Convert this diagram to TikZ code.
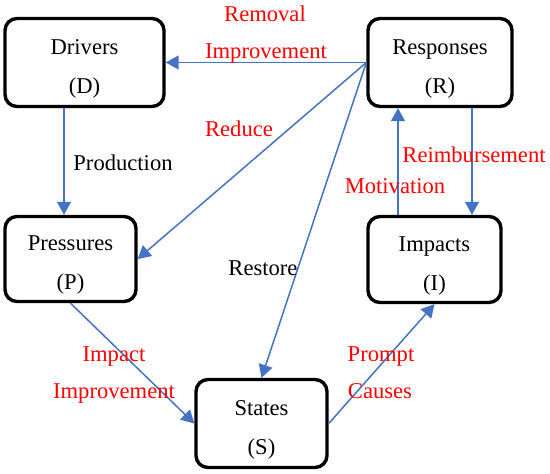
\documentclass[tikz,border=0pt]{standalone}
\usepackage{fontspec}
\setmainfont{Liberation Serif}
\usetikzlibrary{arrows.meta}
\definecolor{arrblue}{RGB}{68,114,196}
\newcommand{\topstrut}{\rule{0pt}{13.8pt}}
\tikzset{
  box/.style={draw=black, line width=1.7pt, rounded corners=6pt, fill=white,
    align=center, inner sep=0pt, font=\fontsize{11.3}{19.5}\selectfont},
  arr/.style={draw=arrblue, line width=0.75pt, -{Triangle[length=6.5pt,width=7pt]}},
  lbl/.style={font=\fontsize{11.3}{13}\selectfont, inner sep=0pt, text height=1.5ex, text depth=0.25ex},
  redlbl/.style={lbl, text=red}
}
\begin{document}
\begin{tikzpicture}[x=0.5pt, y=-0.5pt]
\useasboundingbox (0,0) rectangle (550,474);
% boxes
\node[box, minimum width=79.5pt, minimum height=44pt] (D) at (84.5,62.5) {\topstrut Drivers\\(D)};
\node[box, minimum width=72pt, minimum height=44pt] (R) at (440,62.5) {\topstrut Responses\\(R)};
\node[box, minimum width=65.5pt, minimum height=42.5pt] (P) at (70.5,259) {\topstrut Pressures\\(P)};
\node[box, minimum width=66.5pt, minimum height=43pt] (I) at (434.5,259.5) {\topstrut Impacts\\(I)};
\node[box, minimum width=65.5pt, minimum height=44pt] (S) at (261.5,423.5) {\topstrut States\\(S)};
% connectors
\draw[arr] (R.west) -- (D.east);
\draw[arr] (R.west) -- (P.east);
\draw[arr] (R.west) -- (S.north);
\draw[arr] ([xshift=-10.25pt]D.south) -- ([xshift=-3.25pt]P.north);
\draw[arr] ([xshift=16pt]R.south) -- ([xshift=18.75pt]I.north);
\draw[arr] ([xshift=-18.25pt]I.north) -- ([xshift=-21pt]R.south);
\draw[arr] (P.south) -- (S.west);
\draw[arr] (S.east) -- (I.south);
% labels
\node[redlbl] (l1) at (265,16) {Removal};
\node[redlbl] (l2) at (266,53) {Improvement};
\node[redlbl] (l3) at (239,131) {Reduce};
\node[lbl] (l4) at (123,165) {Production};
\node[redlbl] (l5) at (474,157) {Reimbursement};
\node[redlbl] (l6) at (395,188) {Motivation};
\node[lbl] (l7) at (263,270) {Restore};
\node[redlbl] (l8) at (114,356) {Impact};
\node[redlbl] (l9) at (114,393) {Improvement};
\node[redlbl] (l10) at (381,356) {Prompt};
\node[redlbl] (l11) at (380,393) {Causes};
\end{tikzpicture}
\end{document}
